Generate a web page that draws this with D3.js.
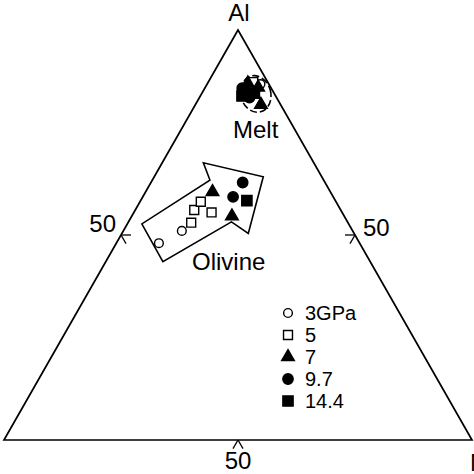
<!DOCTYPE html>
<html>
<head>
<meta charset="utf-8">
<script src="https://cdn.jsdelivr.net/npm/d3@7"></script>
<style>
  html, body { margin: 0; padding: 0; background: #fff; }
  svg { display: block; font-family: "Liberation Sans", Arial, Helvetica, sans-serif; }
</style>
</head>
<body>
<div id="chart"></div>
<script>
// ternary compositions in percent: [Al, Mg]
const pressures = ["3GPa", "5", "7", "9.7", "14.4"];
const symbolKinds = ["openCircle", "openSquare", "triangle", "circle", "square"];

const olivine3 = [[48.0, 9.1], [51.0, 12.5]];
const olivine5 = [[53.0, 13.5], [56.1, 12.6], [58.1, 13.0], [55.5, 16.6]];
const olivine7 = [[60.5, 14.3], [54.6, 21.4]];
const olivine97 = [[62.8, 19.6], [59.3, 19.3]];
const olivine144 = [[58.4, 22.7]];

const melt3 = [[86.8, 11.4]];
const melt5 = [[87.3, 9.6]];
const melt7 = [[81.8, 14.0], [87.0, 8.6], [86.0, 11.3]];
const melt97 = [[84.9, 9.3], [83.5, 10.7], [85.8, 8.0]];
const melt144 = [[84.6, 11.2], [83.9, 8.9]];

const meltCentre = [84.4, 11.6];
const arrowOutline = [[52.7, 3.1], [43.5, 12.2], [53.2, 22.0], [50.4, 27.0],
                      [64.2, 23.3], [67.6, 8.8], [63.4, 12.3]];

const corners = [[100, 0], [0, 0], [0, 100]];
const tickValues = [[50, 0], [50, 50], [0, 50]];
const tickLabels = ["50", "50", "50"];
const apexLabel = "Al";
const rightLabel = "Mg";

const width = 474, height = 474;

const svg = d3.select("#chart").append("svg")
    .attr("width", width)
    .attr("height", height);

const yScale = d3.scaleLinear().domain([0, 100]).range([440, 30]);
const xScale = d3.scaleLinear().domain([0, 100]).range([4, 472]);

function project(p) {
    return [xScale(p[1] + p[0] / 2), yScale(p[0])];
}

const line = d3.line().x(d => project(d)[0]).y(d => project(d)[1]);

// triangle frame
svg.append("path")
    .attr("d", line(corners) + "Z")
    .attr("fill", "none")
    .attr("stroke", "#000")
    .attr("stroke-width", 1.7)
    .attr("stroke-linejoin", "miter");

// ticks at 50 (small V pointing into the triangle)
const tickNormals = [-30, 210, 270];
tickValues.forEach((t, i) => {
    const [px, py] = project(t);
    const len = 10;
    [-30, 30].forEach(off => {
        const ang = (tickNormals[i] + off) * Math.PI / 180;
        svg.append("line")
            .attr("x1", px).attr("y1", py)
            .attr("x2", px + len * Math.cos(ang))
            .attr("y2", py - len * Math.sin(ang))
            .attr("stroke", "#000")
            .attr("stroke-width", 1.3);
    });
});

const tickLabelPos = [
    { dx: -5, dy: -3, anchor: "end" },
    { dx: 8, dy: 1, anchor: "start" },
    { dx: 0, dy: 29, anchor: "middle" }
];
tickValues.forEach((t, i) => {
    const [px, py] = project(t);
    svg.append("text")
        .attr("x", px + tickLabelPos[i].dx)
        .attr("y", py + tickLabelPos[i].dy)
        .attr("text-anchor", tickLabelPos[i].anchor)
        .style("font-size", "24px")
        .text(tickLabels[i]);
});

// corner labels
const apex = project(corners[0]);
svg.append("text")
    .attr("x", apex[0] + 1).attr("y", apex[1] - 9)
    .attr("text-anchor", "middle")
    .style("font-size", "24px")
    .text(apexLabel);

const br = project(corners[2]);
svg.append("text")
    .attr("x", br[0] - 2).attr("y", br[1] + 31)
    .style("font-size", "24px")
    .text(rightLabel);

// arrow
svg.append("path")
    .attr("d", line(arrowOutline) + "Z")
    .attr("fill", "none")
    .attr("stroke", "#000")
    .attr("stroke-width", 1.6)
    .attr("stroke-linejoin", "miter");

// dashed envelope round the melts
const mc = project(meltCentre);
svg.append("ellipse")
    .attr("cx", mc[0]).attr("cy", mc[1])
    .attr("rx", 15).attr("ry", 18.5)
    .attr("transform", `rotate(-15, ${mc[0]}, ${mc[1]})`)
    .attr("fill", "none")
    .attr("stroke", "#000")
    .attr("stroke-width", 1.6)
    .attr("stroke-dasharray", "7,3");

const symbolDefs = {
    openCircle: { type: d3.symbolCircle, size: 60, filled: false },
    openSquare: { type: d3.symbolSquare, size: 80, filled: false },
    triangle: { type: d3.symbolTriangle, size: 70, filled: true },
    circle: { type: d3.symbolCircle, size: 85, filled: true },
    square: { type: d3.symbolSquare, size: 105, filled: true }
};

function drawPoints(points, kind) {
    const def = symbolDefs[kind];
    svg.append("g").selectAll("path")
        .data(points)
        .enter()
        .append("path")
        .attr("transform", d => `translate(${project(d)[0]}, ${project(d)[1]})`)
        .attr("d", d3.symbol().type(def.type).size(def.size))
        .attr("fill", def.filled ? "#000" : "#fff")
        .attr("stroke", "#000")
        .attr("stroke-width", 1.4);
}

const olivineSets = [olivine3, olivine5, olivine7, olivine97, olivine144];
const meltSets = [melt3, melt5, melt7, melt97, melt144];

olivineSets.forEach((s, i) => drawPoints(s, symbolKinds[i]));
meltSets.forEach((s, i) => drawPoints(s, symbolKinds[i]));

// phase labels
svg.append("text")
    .attr("x", 233).attr("y", 138)
    .style("font-size", "24px")
    .text("Melt");
svg.append("text")
    .attr("x", 192).attr("y", 270)
    .style("font-size", "24px")
    .text("Olivine");

// legend
const legend = svg.append("g").attr("transform", "translate(288, 313)");
pressures.forEach((p, i) => {
    const def = symbolDefs[symbolKinds[i]];
    const row = legend.append("g").attr("transform", `translate(0, ${i * 22})`);
    row.append("path")
        .attr("d", d3.symbol().type(def.type).size(def.size))
        .attr("fill", def.filled ? "#000" : "#fff")
        .attr("stroke", "#000")
        .attr("stroke-width", 1.4);
    row.append("text")
        .attr("x", 17).attr("y", 7)
        .style("font-size", "20px")
        .text(p);
});
</script>
</body>
</html>
